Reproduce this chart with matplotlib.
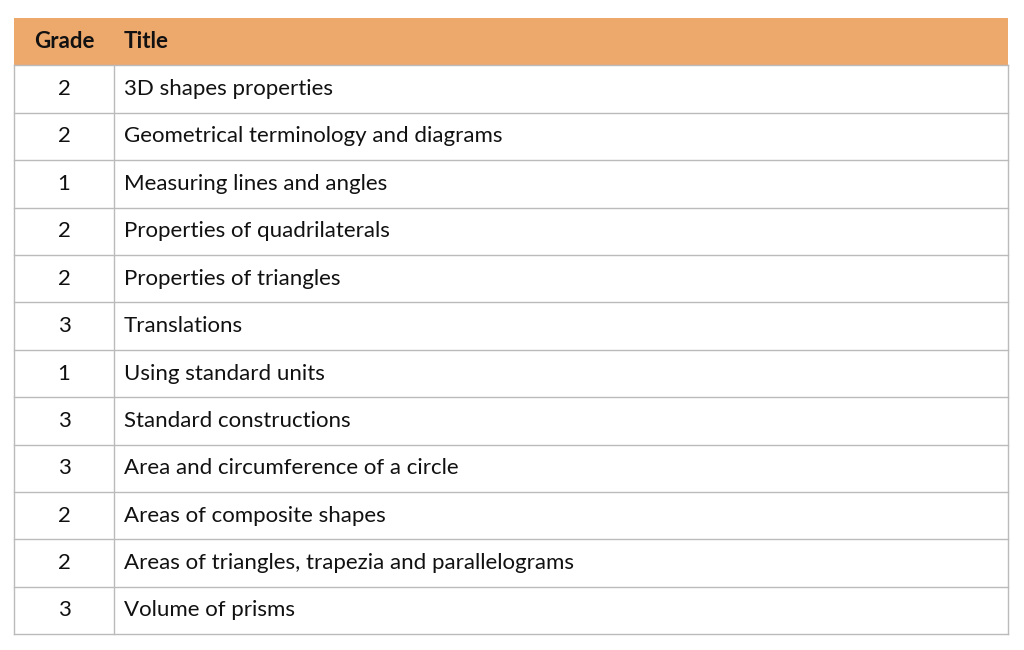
import matplotlib
matplotlib.use("Agg")
import matplotlib.pyplot as plt
from matplotlib.patches import Rectangle

headers = ["Grade", "Title"]
grades = [2, 2, 1, 2, 2, 3, 1, 3, 3, 2, 2, 3]
titles = ["3D shapes properties", "Geometrical terminology and diagrams",
          "Measuring lines and angles", "Properties of quadrilaterals",
          "Properties of triangles", "Translations", "Using standard units",
          "Standard constructions", "Area and circumference of a circle",
          "Areas of composite shapes", "Areas of triangles, trapezia and parallelograms",
          "Volume of prisms"]

plt.rcParams['font.family'] = ['Lato', 'DejaVu Sans']
fig = plt.figure(figsize=(10.24, 6.5), dpi=100)
ax = fig.add_axes([0, 0, 1, 1])
ax.set_xlim(0, 1024); ax.set_ylim(650, 0); ax.axis('off')

x0, x1, xm = 14, 1008, 114
y0, rh = 18, 47.4
hdr = "#EDA86C"; lc = "#BBBBBB"
n = len(grades)
ax.add_patch(Rectangle((x0, y0), x1 - x0, rh, facecolor=hdr, edgecolor='none'))
ax.text((x0 + xm) / 2, y0 + rh / 2, headers[0], ha='center', va='center', fontsize=16, fontweight='bold', color='#111111')
ax.text(124, y0 + rh / 2, headers[1], ha='left', va='center', fontsize=16, fontweight='bold', color='#111111')
for i, (g, t) in enumerate(zip(grades, titles)):
    yc = y0 + rh * (i + 1.5)
    ax.text((x0 + xm) / 2, yc, str(g), ha='center', va='center', fontsize=16, color='#111111')
    ax.text(124, yc, t, ha='left', va='center', fontsize=16, color='#111111')
yb = y0 + rh * (n + 1)
for i in range(1, n + 1):
    y = y0 + rh * i
    ax.plot([x0, x1], [y, y], color=lc, lw=1)
ax.plot([x0, x1], [yb, yb], color=lc, lw=1)
ax.plot([x0, x0], [y0 + rh, yb], color=lc, lw=1)
ax.plot([x1, x1], [y0 + rh, yb], color=lc, lw=1)
ax.plot([xm, xm], [y0 + rh, yb], color=lc, lw=1)
fig.savefig("out.png", dpi=100, facecolor='white')
